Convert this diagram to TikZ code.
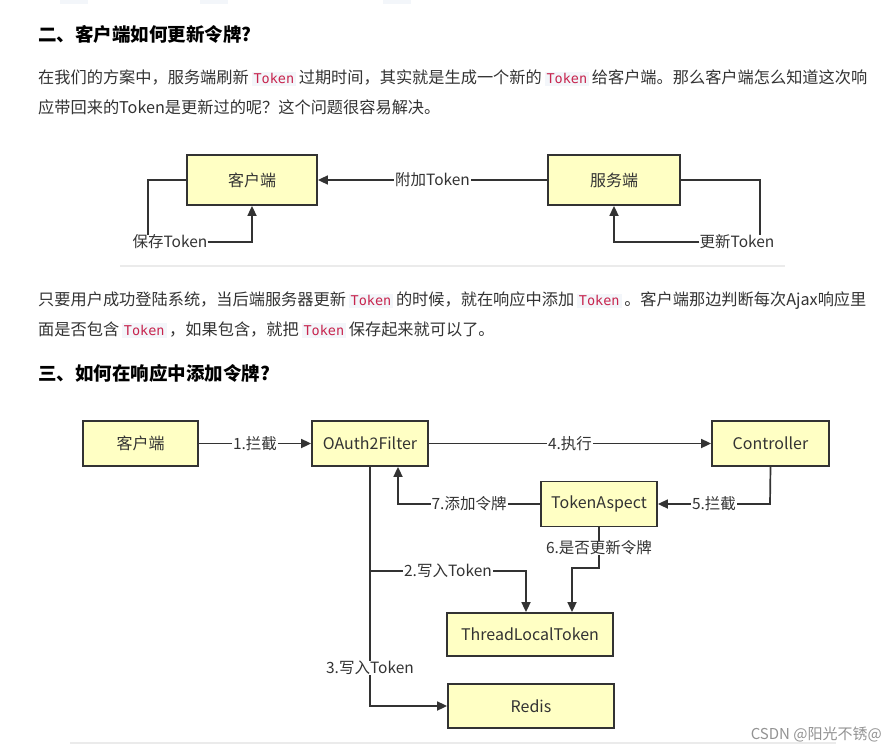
\documentclass[tikz,border=0pt]{standalone}
\usepackage{fontspec}
\setmainfont{Noto Sans CJK SC}
\newfontfamily\codefont{DejaVu Sans Mono}
\usetikzlibrary{arrows.meta,shadows}
\definecolor{codebg}{HTML}{F3F6FA}
\definecolor{codered}{HTML}{C7254E}
\definecolor{boxfill}{HTML}{FFFFC4}
\definecolor{txt}{HTML}{333333}
\newcommand\tok[1]{{\setlength{\fboxsep}{2pt}\colorbox{codebg}{\codefont\fontsize{13.5}{15}\selectfont\color{codered}#1}}}
\begin{document}
\begin{tikzpicture}[x=1pt,y=-1pt,
  box/.style={draw=txt,line width=1.8pt,fill=boxfill,inner sep=0pt,font=\fontsize{16}{18}\selectfont,text=txt},
  con/.style={draw=txt,line width=1.7pt},
  arr/.style={con,-{Triangle[length=10pt,width=9pt]}},
  lab/.style={fill=white,inner sep=1pt,font=\fontsize{15.5}{17}\selectfont,text=txt},
  para/.style={anchor=west,inner sep=0pt,font=\fontsize{16.2}{19}\selectfont,text=txt},
  head/.style={anchor=west,inner sep=0pt,font=\bfseries\fontsize{18.5}{21}\selectfont,text=black},
  panel/.style={fill=white,drop shadow={opacity=0.25,shadow xshift=0pt,shadow yshift=-1.5pt,fill=gray!60}}]
\useasboundingbox[fill=white] (0,0) rectangle (896,754);
\fill[codebg] (60,0) rectangle (88,4);
\fill[codebg] (200,0) rectangle (228,4);
\fill[codebg] (383,0) rectangle (411,4);
\node[head] (h1) at (38,34) {二、客户端如何更新令牌?};
\node[para] (p1) at (38,78) {在我们的方案中，服务端刷新\,\tok{Token}\,过期时间，其实就是生成一个新的\,\tok{Token}\,给客户端。那么客户端怎么知道这次响};
\node[para] (p2) at (38,107) {应带回来的Token是更新过的呢？这个问题很容易解决。};
% diagram 1
\path[panel] (120,141) rectangle (785,265);
\node[box,minimum width=130pt,minimum height=50pt] (kh) at (252,180) {客户端};
\node[box,minimum width=132pt,minimum height=50pt] (fw) at (614,180) {服务端};
\draw[arr] (fw.west) -- node[lab]{附加Token} (kh.east);
\node[lab,inner sep=0pt] (bc) at (170,242) {保存Token};
\node[lab,inner sep=0pt] (gx) at (737,242) {更新Token};
\coordinate (a1) at (148,180);
\draw[con] (kh.west) -- (a1) -- (a1 |- bc.north);
\draw[arr] (bc.east) -| (kh.south);
\coordinate (b1) at (760,180);
\draw[con] (fw.east) -- (b1) -- (b1 |- gx.north);
\draw[arr] (gx.west) -| (fw.south);
\node[para] (p3) at (38,301) {只要用户成功登陆系统，当后端服务器更新\,\tok{Token}\,的时候，就在响应中添加\,\tok{Token}\,。客户端那边判断每次Ajax响应里};
\node[para] (p4) at (38,330) {面是否包含\,\tok{Token}\,，如果包含，就把\,\tok{Token}\,保存起来就可以了。};
\node[head] (h2) at (38,373) {三、如何在响应中添加令牌?};
% diagram 2
\path[panel] (70,409) rectangle (836,742);
\tikzset{b2/.style={box,minimum height=45pt}}
\node[b2,minimum width=115pt] (c) at (140.5,443.5) {客户端};
\node[b2,minimum width=116pt] (o) at (370,443.5) {OAuth2Filter};
\node[b2,minimum width=117pt] (ct) at (770.5,443.5) {Controller};
\node[b2,minimum width=116pt] (ta) at (599,504) {TokenAspect};
\node[b2,minimum width=166pt,minimum height=43pt] (tl) at (530,634.5) {ThreadLocalToken};
\node[b2,minimum width=166pt,minimum height=44pt] (r) at (531,706) {Redis};
\draw[arr] (c.east) -- node[lab]{1.拦截} (o.west);
\draw[arr] (o.east) -- node[lab]{4.执行} (ct.west);
\coordinate (t7) at (398,504);
\draw[arr] (ta.west) -- node[lab]{7.添加令牌} (t7) -- (t7 |- o.south);
\coordinate (t5) at (770,504);
\draw[arr] (ct.south) -- (t5) -- node[lab]{5.拦截} (ta.east);
\node[lab,inner sep=0pt] (l6) at (599,548) {6.是否更新令牌};
\coordinate (s6) at (599,568); \coordinate (s7) at (572,568);
\draw[con] (ta.south) -- (l6.north);
\draw[arr] (l6.south) -- (s6) -- (s7) -- (s7 |- tl.north);
\coordinate (o2) at (370,571); \coordinate (o3) at (526,571);
\node[lab,inner sep=0pt] (l3) at (370,668) {3.写入Token};
\draw[con] (o.south) -- (l3.north);
\draw[arr] (l3.south) |- (r.west);
\draw[arr] (o2) -- node[lab]{2.写入Token} (o3) -- (o3 |- tl.north);
\node[anchor=east,inner sep=0pt,text=gray!85,font=\fontsize{15}{17}\selectfont] (wm) at (882,734) {CSDN @阳光不锈@};
\end{tikzpicture}
\end{document}
